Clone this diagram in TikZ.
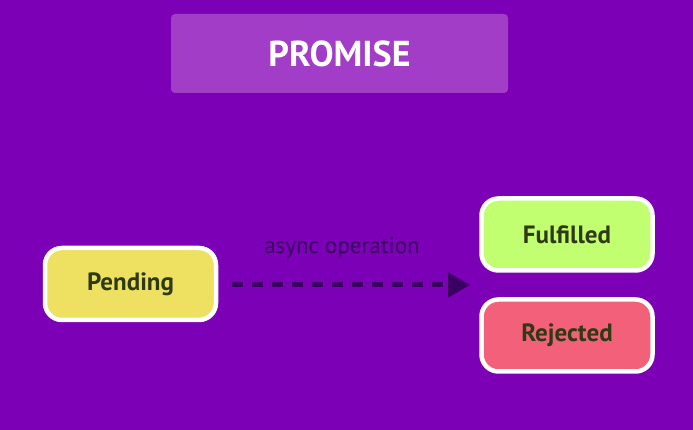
\documentclass[tikz,border=0pt]{standalone}
\usepackage{fontspec}
\setmainfont{PT Sans}
\usetikzlibrary{arrows.meta}
\definecolor{bg}{HTML}{7B00B6}
\definecolor{titlebg}{HTML}{A23DC8}
\definecolor{pend}{HTML}{EEE060}
\definecolor{ful}{HTML}{C2FF70}
\definecolor{rej}{HTML}{F2607A}
\definecolor{txt}{HTML}{2E3A14}
\definecolor{arr}{HTML}{3C0062}
\tikzset{
  state/.style={rounded corners=17pt, draw=white, line width=4.5pt, minimum width=171pt, minimum height=72pt, text=txt, font=\bfseries\fontsize{25}{28}\selectfont, inner sep=0pt},
}
\begin{document}
\begin{tikzpicture}[x=1pt,y=1pt]
\fill[bg] (0,0) rectangle (693,430);
\useasboundingbox (0,0) rectangle (693,430);
\node[fill=titlebg, rounded corners=4pt, minimum width=337pt, minimum height=79pt, text=white, font=\bfseries\fontsize{36}{40}\selectfont] (title) at (339.5,376.5) {PROMISE};
\node[state, fill=pend] (pending) at (130.5,146) {Pending};
\node[state, fill=ful] (fulfilled) at (567,195.5) {Fulfilled};
\node[state, fill=rej] (rejected) at (567,94.5) {Rejected};
\coordinate (tip) at (470,145);
\draw[arr, line width=5pt, dash pattern=on 11pt off 9pt, -{Triangle[length=22pt,width=24pt]}] (232,145) -- (tip);
\node[text=arr, font=\fontsize{23}{26}\selectfont] (lbl) at (342,182) {async operation};
\end{tikzpicture}
\end{document}
